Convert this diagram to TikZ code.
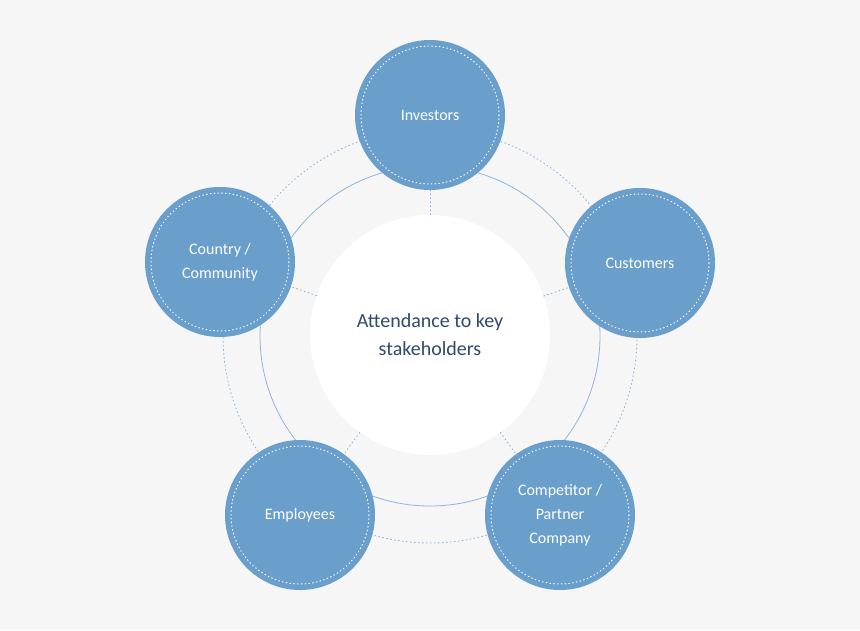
\documentclass[tikz,border=0pt]{standalone}
\usepackage{fontspec}
\setmainfont{Carlito}
\definecolor{bg}{HTML}{F6F6F6}
\definecolor{blu}{HTML}{6A9ECB}
\definecolor{lblu}{HTML}{8DB5DE}
\definecolor{navy}{HTML}{2E4A6E}
\begin{document}
\begin{tikzpicture}[x=1pt,y=-1pt,
  outer/.style={circle,fill=blu,minimum size=150pt,inner sep=0pt,align=center,text=white,font=\fontsize{16}{24}\selectfont},
  ring/.style={draw=white,line width=1pt,dash pattern=on 0.8pt off 3pt,line cap=round},
  conn/.style={draw=lblu,line width=0.9pt,dash pattern=on 1pt off 3pt,line cap=round}]
\fill[bg] (0,0) rectangle (860,630);
\useasboundingbox (0,0) rectangle (860,630);
\coordinate (c) at (430,336);
\draw[conn] (c) circle[radius=207];
\draw[lblu,line width=0.8pt] (c) circle[radius=170];
\node[circle,fill=white,minimum size=240pt,inner sep=0pt,align=center,text=navy,font=\fontsize{20}{28}\selectfont] (m) at (430,335) {Attendance to key\\stakeholders};
\foreach \n/\p/\t in {inv/{(430,115)}/Investors, cus/{(640,263)}/Customers, com/{(560,515)}/{Competitor /\\Partner\\Company}, emp/{(300,515)}/Employees, cty/{(220,262)}/{Country /\\Community}}{
  \node[outer] (\n) at \p {\t};
  \draw[ring] (\n.center) circle[radius=69];
  \draw[conn] (m) -- (\n);
}
\end{tikzpicture}
\end{document}
